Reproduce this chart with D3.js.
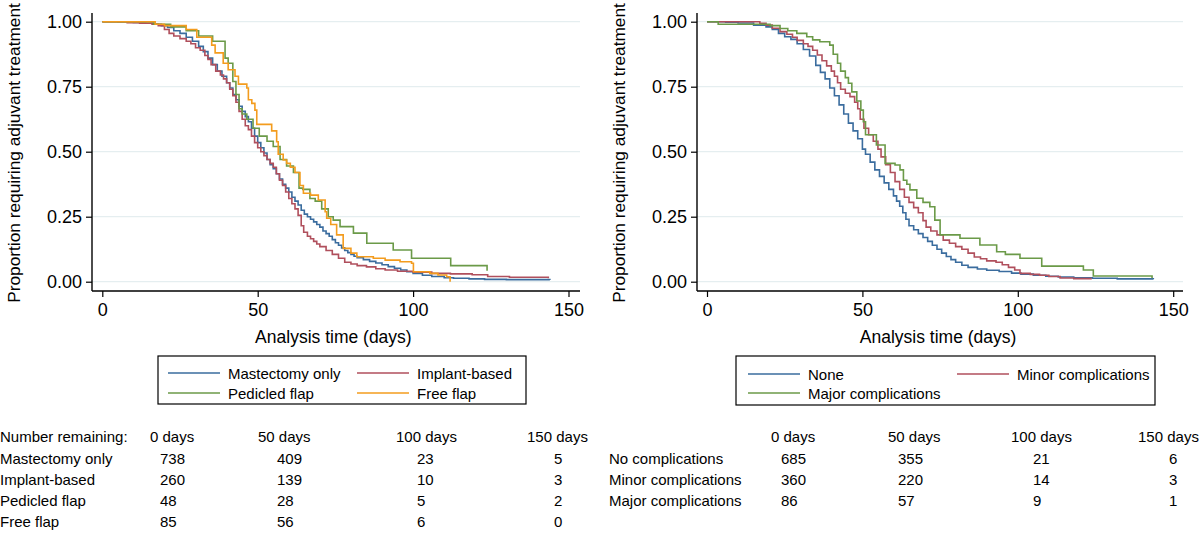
<!DOCTYPE html>
<html>
<head>
<meta charset="utf-8">
<script src="https://cdn.jsdelivr.net/npm/d3@7"></script>
<style>
  html, body { margin: 0; padding: 0; background: #fff; }
  svg { display: block; font-family: "Liberation Sans", Arial, Helvetica, sans-serif; }
</style>
</head>
<body>
<svg id="chart" width="1200" height="533"></svg>
<script>
// ---------------- DATA ----------------
const xTicks = [0, 50, 100, 150];
const yTicks = [0, 0.25, 0.5, 0.75, 1];
const yTickLabels = ["0.00", "0.25", "0.50", "0.75", "1.00"];
const xTitle = "Analysis time (days)";
const yTitle = "Proportion requiring adjuvant treatment";

// Left panel: reconstruction type (day, proportion)
const mastectomyOnly = [[0,1],[5,0.999],[10,0.997],[14,0.995],[17,0.99],[19,0.985],[21,0.978],[23,0.965],[25,0.955],[27,0.94],[29,0.925],[31,0.905],[32.5,0.885],[34,0.86],[35.5,0.835],[37,0.81],[38.5,0.79],[40,0.765],[41,0.745],[42,0.72],[43,0.7],[44,0.675],[45,0.655],[46,0.635],[47,0.615],[48,0.59],[49,0.56],[50,0.535],[51,0.515],[52,0.495],[53,0.47],[54,0.45],[55,0.435],[56,0.415],[57,0.395],[58,0.375],[59,0.36],[60,0.345],[61,0.325],[62,0.31],[63,0.295],[64,0.275],[65,0.26],[66,0.25],[67,0.24],[68,0.23],[69,0.22],[70,0.21],[71,0.195],[72,0.185],[73,0.175],[74,0.162],[75,0.15],[76,0.14],[77,0.13],[78,0.12],[79,0.112],[80,0.105],[81,0.098],[82,0.092],[84,0.085],[86,0.078],[88,0.072],[90,0.065],[92,0.058],[94,0.052],[96,0.045],[98,0.038],[100,0.032],[103,0.025],[106,0.02],[110,0.015],[113,0.013],[118,0.011],[123,0.009],[130,0.008],[144,0.0065]];
const implantBased = [[0,1],[8,0.996],[12,0.994],[16,0.99],[18,0.985],[20,0.97],[21.5,0.955],[23,0.945],[25,0.935],[27,0.925],[28.5,0.915],[30,0.9],[31.5,0.89],[33,0.87],[34,0.855],[35,0.835],[36.5,0.81],[38,0.795],[39,0.78],[40,0.765],[41,0.74],[42,0.715],[43,0.69],[44,0.655],[45,0.625],[46,0.6],[47,0.585],[48,0.56],[49,0.535],[50,0.515],[51,0.5],[52,0.485],[53,0.47],[54,0.455],[55,0.44],[56,0.415],[57,0.39],[58,0.37],[59,0.345],[60,0.32],[61,0.3],[62,0.28],[63,0.255],[64,0.215],[64.8,0.19],[66,0.175],[67,0.165],[68,0.155],[69,0.145],[70,0.135],[72,0.12],[74,0.105],[76,0.09],[78,0.075],[80,0.068],[82,0.062],[85,0.057],[88,0.05],[91,0.045],[95,0.04],[100,0.037],[106,0.032],[112,0.03],[119,0.027],[124,0.02],[131,0.017],[143.5,0.013]];
const pedicledFlap = [[0,1],[16.5,0.99],[22,0.98],[27,0.965],[31,0.945],[35.5,0.925],[39.5,0.86],[40.5,0.84],[42,0.77],[43,0.72],[44,0.665],[45,0.645],[46.5,0.625],[48.5,0.59],[50.5,0.56],[53,0.54],[55,0.52],[57.2,0.47],[59.3,0.445],[61.5,0.42],[63.3,0.36],[64.5,0.355],[66.8,0.32],[68.5,0.31],[70.6,0.28],[72.7,0.25],[74.3,0.237],[76.5,0.212],[80.8,0.187],[85.1,0.148],[93.6,0.122],[99.5,0.09],[112.1,0.062],[123.8,0.042]];
const freeFlap = [[0,1],[17,0.99],[20,0.985],[27,0.97],[30.4,0.94],[35.2,0.91],[36.3,0.88],[38.9,0.84],[40.5,0.815],[42.7,0.79],[43.8,0.76],[46.5,0.745],[47,0.7],[48.1,0.686],[49.1,0.66],[49.7,0.605],[54.5,0.58],[56.1,0.538],[56.6,0.49],[58.2,0.468],[59.3,0.455],[60.5,0.44],[62,0.42],[63.6,0.37],[64.7,0.34],[67,0.333],[69.5,0.314],[71.7,0.269],[72.2,0.244],[73.5,0.22],[75.4,0.18],[77.5,0.128],[80,0.11],[81.9,0.096],[87.2,0.09],[91,0.083],[95.8,0.077],[99.5,0.071],[100.1,0.038],[105.4,0.032],[108,0.026],[110.8,0.019],[111.9,0]];

// Right panel: complications (day, proportion)
const noneComp = [[0,1],[6,0.998],[10,0.995],[15,0.987],[19,0.98],[21,0.97],[23,0.955],[25,0.942],[27,0.932],[29,0.915],[31,0.893],[33,0.868],[35,0.832],[36.5,0.805],[38,0.78],[39.5,0.745],[41,0.715],[42.5,0.68],[44,0.645],[45.5,0.61],[47,0.58],[48.5,0.55],[50,0.51],[51,0.49],[52.5,0.46],[54,0.43],[55.5,0.405],[57,0.38],[58.5,0.355],[60,0.33],[61,0.31],[62,0.29],[63,0.265],[64,0.24],[65,0.215],[66.5,0.2],[68,0.185],[69.5,0.17],[71,0.155],[72.5,0.14],[74,0.125],[75.5,0.11],[77,0.097],[78.5,0.085],[80,0.075],[82,0.063],[84,0.055],[87,0.049],[90,0.044],[94,0.039],[98,0.033],[101,0.029],[105,0.025],[109,0.021],[113,0.018],[118,0.015],[124,0.013],[132,0.011],[143.6,0.009]];
const minorComp = [[0,1],[17,0.994],[19,0.987],[21,0.975],[23.5,0.962],[25.7,0.952],[27.5,0.94],[29,0.928],[31,0.915],[32.5,0.905],[34,0.89],[35.5,0.872],[37,0.85],[38.5,0.83],[40,0.81],[41,0.79],[42,0.765],[43,0.74],[44.5,0.725],[46,0.712],[47.5,0.69],[48.5,0.665],[49.3,0.625],[50.5,0.59],[52,0.565],[53.5,0.54],[55,0.51],[56,0.48],[57.5,0.45],[59,0.42],[60.5,0.385],[62,0.355],[63.5,0.325],[65,0.305],[66.5,0.285],[68,0.265],[69.5,0.235],[70.5,0.21],[72,0.195],[74,0.18],[76,0.16],[78,0.148],[80,0.135],[82,0.125],[84,0.11],[86,0.095],[88,0.088],[90,0.08],[93,0.075],[95,0.065],[97,0.055],[99,0.045],[100.7,0.032],[104,0.028],[107,0.025],[110,0.02],[113.6,0.014],[118,0.012],[123.8,0.012]];
const majorComp = [[0,1],[3.6,0.99],[20.3,0.985],[23.5,0.974],[26,0.965],[28.9,0.955],[32.1,0.942],[34,0.93],[36.3,0.923],[39.5,0.91],[40.6,0.875],[42,0.84],[43,0.81],[44.5,0.785],[45.5,0.763],[46.6,0.73],[48.2,0.695],[49.5,0.66],[50.3,0.615],[51,0.565],[54.5,0.526],[57.3,0.455],[60.5,0.449],[62.1,0.43],[63.2,0.39],[64.3,0.375],[65.3,0.353],[67.5,0.321],[69.5,0.305],[71.7,0.288],[73.3,0.237],[75,0.18],[81.4,0.167],[87.8,0.141],[93.2,0.115],[96,0.105],[100.7,0.09],[107.7,0.06],[121.1,0.045],[124.3,0.022],[143.2,0.013]];

const leftNames = ["Mastectomy only", "Implant-based", "Pedicled flap", "Free flap"];
const rightNames = ["None", "Minor complications", "Major complications"];
const colorsList = ["#3a6c9e", "#b04f5c", "#6b9a48", "#f39c1e"];

// Number-at-risk tables
const leftTableHeader = "Number remaining:";
const rightTableHeader = "";
const tableDayLabels = ["0 days", "50 days", "100 days", "150 days"];
const leftRowLabels = ["Mastectomy only", "Implant-based", "Pedicled flap", "Free flap"];
const leftAtRisk = [[738, 409, 23, 5], [260, 139, 10, 3], [48, 28, 5, 2], [85, 56, 6, 0]];
const rightRowLabels = ["No complications", "Minor complications", "Major complications"];
const rightAtRisk = [[685, 355, 21, 6], [360, 220, 14, 3], [86, 57, 9, 1]];

// ---------------- DRAW ----------------
const svg = d3.select("#chart");

function panel(opts) {
  const g = svg.append("g");
  const x = d3.scaleLinear().domain([0, 150]).range([opts.x0, opts.x150]);
  const y = d3.scaleLinear().domain([0, 1]).range([281.7, 21.7]);
  const axL = opts.axisX, axB = 291, axR = opts.axisRight, axT = 13;

  // gridlines
  g.append("g").selectAll("line").data(yTicks).join("line")
    .attr("x1", axL).attr("x2", axR)
    .attr("y1", d => y(d)).attr("y2", d => y(d))
    .attr("stroke", "#e5eef0").attr("stroke-width", 1.2);

  // curves
  const line = d3.line().x(d => x(d[0])).y(d => y(d[1])).curve(d3.curveStepAfter);
  opts.series.forEach((s, i) => {
    g.append("path").datum(s).attr("d", line)
      .attr("fill", "none").attr("stroke", colorsList[i])
      .attr("stroke-width", 1.6).attr("stroke-linejoin", "miter");
  });

  // y axis
  const yAxis = d3.axisLeft(y).tickValues(yTicks)
    .tickFormat((d, i) => yTickLabels[i]).tickSize(6).tickPadding(4);
  const ya = g.append("g").attr("transform", `translate(${axL},0)`).call(yAxis);
  ya.select(".domain").remove();
  ya.selectAll("line").attr("stroke", "#000").attr("stroke-width", 1.2);
  ya.selectAll("text").attr("font-size", 18).attr("fill", "#000")
    .attr("font-family", "Liberation Sans, Arial, sans-serif");
  g.append("line").attr("x1", axL).attr("x2", axL).attr("y1", axT).attr("y2", axB)
    .attr("stroke", "#000").attr("stroke-width", 1.4);

  // x axis
  const xAxis = d3.axisBottom(x).tickValues(xTicks).tickSize(6).tickPadding(6);
  const xa = g.append("g").attr("transform", `translate(0,${axB})`).call(xAxis);
  xa.select(".domain").remove();
  xa.selectAll("line").attr("stroke", "#000").attr("stroke-width", 1.2);
  xa.selectAll("text").attr("font-size", 18).attr("fill", "#000")
    .attr("font-family", "Liberation Sans, Arial, sans-serif");
  g.append("line").attr("x1", axL).attr("x2", axR).attr("y1", axB).attr("y2", axB)
    .attr("stroke", "#000").attr("stroke-width", 1.4);

  // titles
  g.append("text").attr("x", (opts.x0 + opts.x150) / 2 - 2).attr("y", 343)
    .attr("text-anchor", "middle").attr("font-size", 17.5).text(xTitle);
  g.append("text").attr("transform", `translate(${opts.yTitleX},153) rotate(-90)`)
    .attr("text-anchor", "middle").attr("font-size", 17.3).text(yTitle);

  // legend
  const L = opts.legend;
  g.append("rect").attr("x", L.x).attr("y", L.y).attr("width", L.w).attr("height", L.h)
    .attr("fill", "#fff").attr("stroke", "#000").attr("stroke-width", 1.2);
  L.items.forEach((it, i) => {
    const col = i % 2, row = Math.floor(i / 2);
    const lx = L.colX[col], ly = L.rowY[row];
    g.append("line").attr("x1", lx).attr("x2", lx + 52).attr("y1", ly).attr("y2", ly)
      .attr("stroke", colorsList[i]).attr("stroke-width", 1.6);
    g.append("text").attr("x", lx + 60).attr("y", ly + 5.5).attr("font-size", 15).text(it);
  });

  // table
  const T = opts.table;
  const tg = g.append("g").attr("font-size", 15).attr("fill", "#000");
  tg.append("text").attr("x", T.labelX).attr("y", 442).text(T.header);
  tableDayLabels.forEach((t, j) => {
    tg.append("text").attr("x", T.headX[j]).attr("y", 442).text(t);
  });
  T.rows.forEach((r, i) => {
    const yy = 464 + i * 21;
    tg.append("text").attr("x", T.labelX).attr("y", yy).text(r);
    T.values[i].forEach((v, j) => {
      tg.append("text").attr("x", T.numX[j]).attr("y", yy).text(v);
    });
  });
}

panel({
  x0: 102.3, x150: 568.5, axisX: 92, axisRight: 580, yTitleX: 20,
  series: [mastectomyOnly, implantBased, pedicledFlap, freeFlap],
  legend: { x: 158, y: 356, w: 368, h: 48, colX: [168, 357], rowY: [373, 393], items: leftNames },
  table: { header: leftTableHeader, labelX: 0, headX: [150, 258, 396, 527], numX: [160, 277, 417, 554],
           rows: leftRowLabels, values: leftAtRisk }
});

panel({
  x0: 707, x150: 1173.2, axisX: 697, axisRight: 1183, yTitleX: 625,
  series: [noneComp, minorComp, majorComp],
  legend: { x: 736, y: 356, w: 419, h: 49, colX: [748, 957], rowY: [374, 393], items: rightNames },
  table: { header: rightTableHeader, labelX: 609, headX: [771, 888, 1011, 1138], numX: [781, 898, 1033, 1169],
           rows: rightRowLabels, values: rightAtRisk }
});
</script>
</body>
</html>
